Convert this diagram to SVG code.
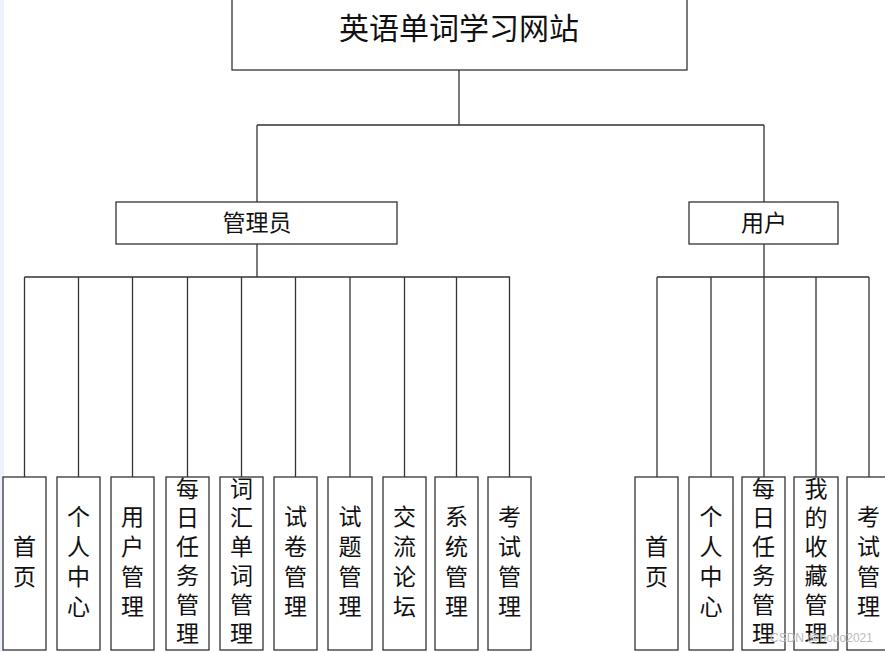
<svg xmlns="http://www.w3.org/2000/svg" width="885" height="652" viewBox="0 0 885 652">
<style>
.box{fill:#fff;stroke:#333;stroke-width:1.3}
.ln{fill:none;stroke:#333;stroke-width:1.3}
.t{font-family:"Noto Sans CJK SC","Noto Sans",sans-serif;fill:#111;text-anchor:middle}
.leaf{font-size:23px}
.wm{font-family:"Liberation Sans",Arial,sans-serif;font-size:12px;fill:#bbb}
</style>
<rect x="0" y="0" width="885" height="652" fill="#fff"/>
<rect x="0" y="0" width="4" height="652" fill="#edf2fa"/>
<g id="connectors">
<path class="ln" d="M459 70V125M257 125H764M257 125V202M764 125V202"/>
<path class="ln" d="M257 244V277M24.5 277H510M24.5 277V477M78.5 277V477M132.5 277V477M187.5 277V477M241.5 277V477M295.5 277V477M350 277V477M404.5 277V477M456.5 277V477M509.5 277V477"/>
<path class="ln" d="M764 244V277M657 277H869M657 277V477M711 277V477M764 277V477M816 277V477M869 277V477"/>
</g>
<g id="root"><rect class="box" x="232" y="-2" width="455" height="72"/><text class="t" x="459" y="39" font-size="30">英语单词学习网站</text></g>
<g id="admin"><rect class="box" x="116" y="202" width="281" height="42"/><text class="t" x="257" y="231" font-size="23">管理员</text></g>
<g id="user"><rect class="box" x="689" y="202" width="149" height="42"/><text class="t" x="764" y="231" font-size="23">用户</text></g>
<g id="a1"><rect class="box" x="3" y="477" width="43" height="173"/><text class="t leaf"><tspan x="24.5" y="555">首</tspan><tspan x="24.5" y="585">页</tspan></text></g>
<g id="a2"><rect class="box" x="57" y="477" width="43" height="173"/><text class="t leaf"><tspan x="78.5" y="525">个</tspan><tspan x="78.5" y="555">人</tspan><tspan x="78.5" y="585">中</tspan><tspan x="78.5" y="615">心</tspan></text></g>
<g id="a3"><rect class="box" x="111" y="477" width="43" height="173"/><text class="t leaf"><tspan x="132.5" y="525">用</tspan><tspan x="132.5" y="555">户</tspan><tspan x="132.5" y="585">管</tspan><tspan x="132.5" y="615">理</tspan></text></g>
<g id="a4"><rect class="box" x="166" y="477" width="43" height="173"/><text class="t leaf"><tspan x="187.5" y="497">每</tspan><tspan x="187.5" y="526">日</tspan><tspan x="187.5" y="555">任</tspan><tspan x="187.5" y="584">务</tspan><tspan x="187.5" y="613">管</tspan><tspan x="187.5" y="642">理</tspan></text></g>
<g id="a5"><rect class="box" x="220" y="477" width="43" height="173"/><text class="t leaf"><tspan x="241.5" y="497">词</tspan><tspan x="241.5" y="526">汇</tspan><tspan x="241.5" y="555">单</tspan><tspan x="241.5" y="584">词</tspan><tspan x="241.5" y="613">管</tspan><tspan x="241.5" y="642">理</tspan></text></g>
<g id="a6"><rect class="box" x="274" y="477" width="43" height="173"/><text class="t leaf"><tspan x="295.5" y="525">试</tspan><tspan x="295.5" y="555">卷</tspan><tspan x="295.5" y="585">管</tspan><tspan x="295.5" y="615">理</tspan></text></g>
<g id="a7"><rect class="box" x="328" y="477" width="44" height="173"/><text class="t leaf"><tspan x="350" y="525">试</tspan><tspan x="350" y="555">题</tspan><tspan x="350" y="585">管</tspan><tspan x="350" y="615">理</tspan></text></g>
<g id="a8"><rect class="box" x="383" y="477" width="43" height="173"/><text class="t leaf"><tspan x="404.5" y="525">交</tspan><tspan x="404.5" y="555">流</tspan><tspan x="404.5" y="585">论</tspan><tspan x="404.5" y="615">坛</tspan></text></g>
<g id="a9"><rect class="box" x="435" y="477" width="43" height="173"/><text class="t leaf"><tspan x="456.5" y="525">系</tspan><tspan x="456.5" y="555">统</tspan><tspan x="456.5" y="585">管</tspan><tspan x="456.5" y="615">理</tspan></text></g>
<g id="a10"><rect class="box" x="488" y="477" width="43" height="173"/><text class="t leaf"><tspan x="509.5" y="525">考</tspan><tspan x="509.5" y="555">试</tspan><tspan x="509.5" y="585">管</tspan><tspan x="509.5" y="615">理</tspan></text></g>
<g id="u1"><rect class="box" x="635" y="477" width="43" height="173"/><text class="t leaf"><tspan x="656.5" y="555">首</tspan><tspan x="656.5" y="585">页</tspan></text></g>
<g id="u2"><rect class="box" x="689" y="477" width="44" height="173"/><text class="t leaf"><tspan x="711" y="525">个</tspan><tspan x="711" y="555">人</tspan><tspan x="711" y="585">中</tspan><tspan x="711" y="615">心</tspan></text></g>
<g id="u3"><rect class="box" x="742" y="477" width="43" height="173"/><text class="t leaf"><tspan x="763.5" y="497">每</tspan><tspan x="763.5" y="526">日</tspan><tspan x="763.5" y="555">任</tspan><tspan x="763.5" y="584">务</tspan><tspan x="763.5" y="613">管</tspan><tspan x="763.5" y="642">理</tspan></text></g>
<g id="u4"><rect class="box" x="794" y="477" width="44" height="173"/><text class="t leaf"><tspan x="816" y="497">我</tspan><tspan x="816" y="526">的</tspan><tspan x="816" y="555">收</tspan><tspan x="816" y="584">藏</tspan><tspan x="816" y="613">管</tspan><tspan x="816" y="642">理</tspan></text></g>
<g id="u5"><rect class="box" x="847" y="477" width="43" height="173"/><text class="t leaf"><tspan x="868.5" y="525">考</tspan><tspan x="868.5" y="555">试</tspan><tspan x="868.5" y="585">管</tspan><tspan x="868.5" y="615">理</tspan></text></g>
<text class="wm" x="770" y="642">CSDN @bobo2021</text>
</svg>
